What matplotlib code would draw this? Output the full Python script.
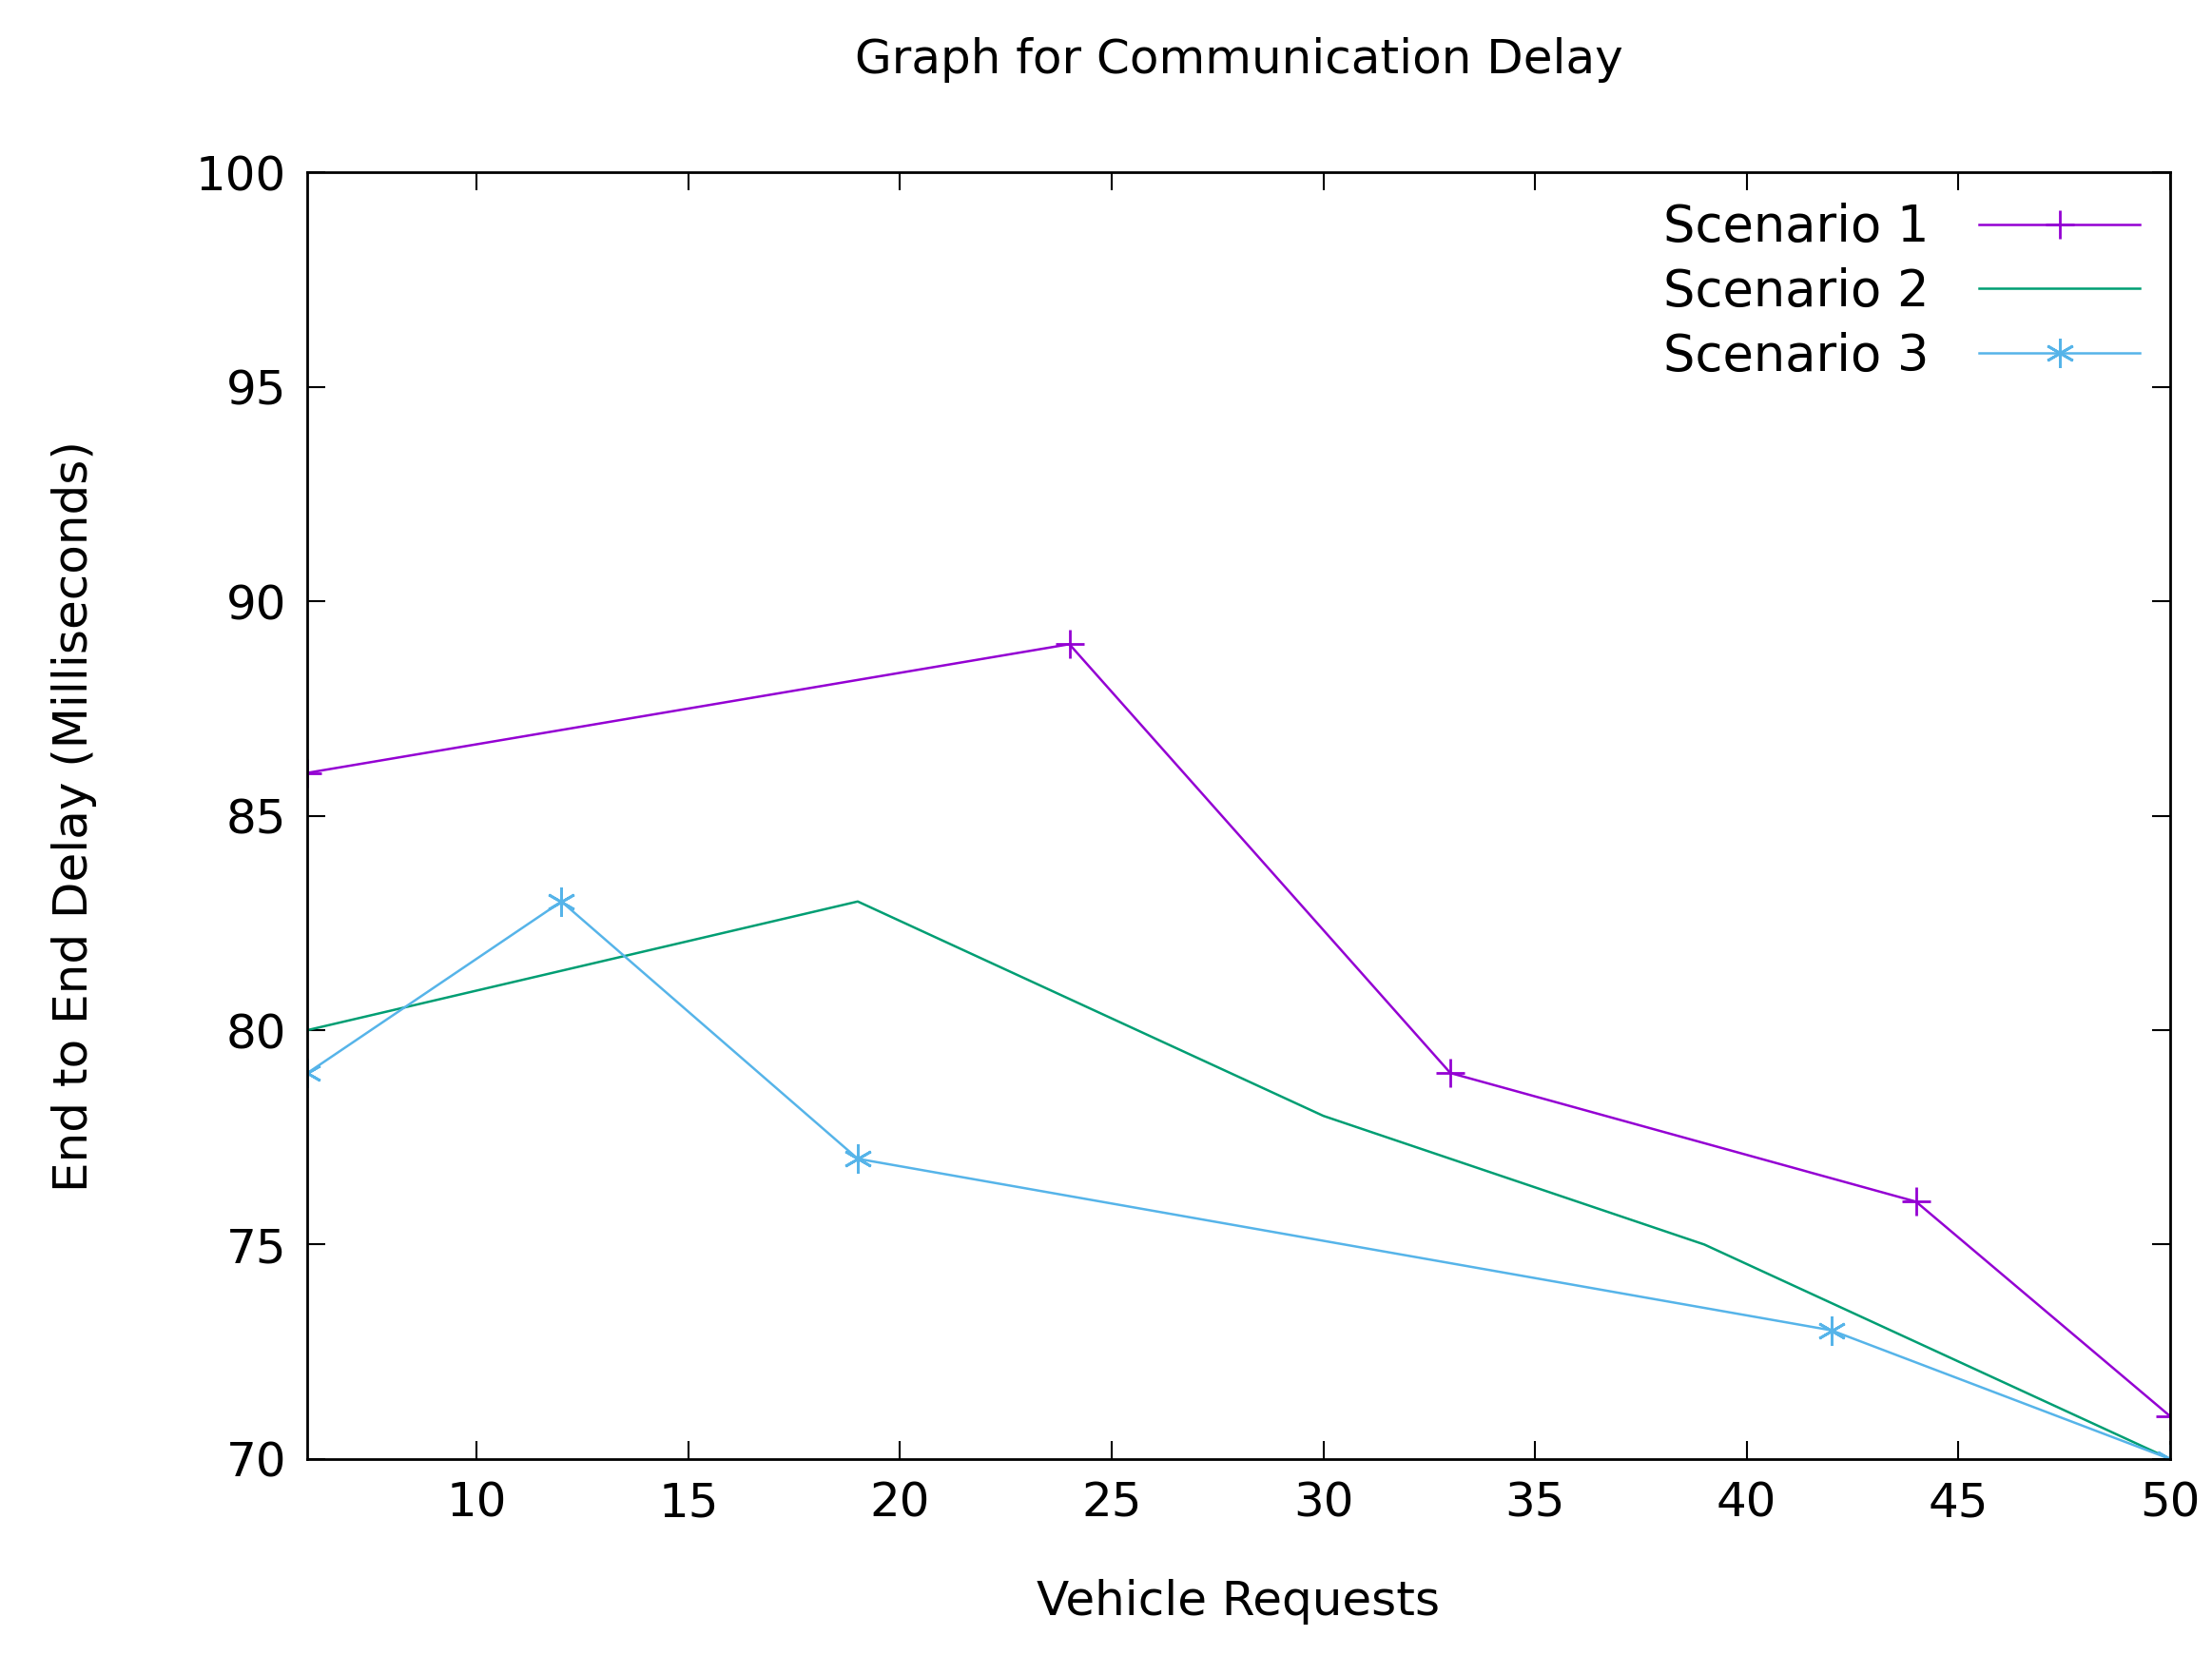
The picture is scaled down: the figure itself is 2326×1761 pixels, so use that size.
import matplotlib.pyplot as plt

# values
s1_x = [6, 24, 33, 44, 50]
s1_y = [86, 89, 79, 76, 71]
s2_x = [6, 19, 30, 39, 50]
s2_y = [80, 83, 78, 75, 70]
s3_x = [6, 12, 19, 42, 50]
s3_y = [79, 83, 77, 73, 70]

x_ticks = [10, 15, 20, 25, 30, 35, 40, 45, 50]
y_ticks = [70, 75, 80, 85, 90, 95, 100]

plt.rcParams['font.family'] = ['DejaVu Sans']

fig = plt.figure(figsize=(23.26, 17.61), dpi=100)
ax = fig.add_axes([0.139, 0.129, 0.842, 0.768])

ax.plot(s1_x, s1_y, color='#9400D3', lw=1.8, marker='+', ms=22, mew=2, label='Scenario 1')
ax.plot(s2_x, s2_y, color='#009E73', lw=1.8, label='Scenario 2')
ax.plot(s3_x, s3_y, color='#56B4E9', lw=1.8, marker=(6, 2, 0), ms=22, mew=2, label='Scenario 3')

ax.set_xlim(6, 50)
ax.set_ylim(70, 100)
ax.set_xticks(x_ticks)
ax.set_yticks(y_ticks)
ax.tick_params(direction='in', length=14, width=1.5, labelsize=36, pad=16,
               top=True, right=True)
for sp in ax.spines.values():
    sp.set_linewidth(2)

ax.set_title('Graph for Communication Delay', fontsize=36, pad=75)
ax.set_xlabel('Vehicle Requests', fontsize=36, labelpad=40)
ax.set_ylabel('End to End Delay (Milliseconds)', fontsize=36, labelpad=75)

leg = ax.legend(loc='upper right', fontsize=38, frameon=False, markerfirst=False,
                handlelength=3.2, labelspacing=0.3, borderaxespad=0.2,
                handletextpad=1.0)

fig.savefig('out.png', dpi=100, facecolor='white')
